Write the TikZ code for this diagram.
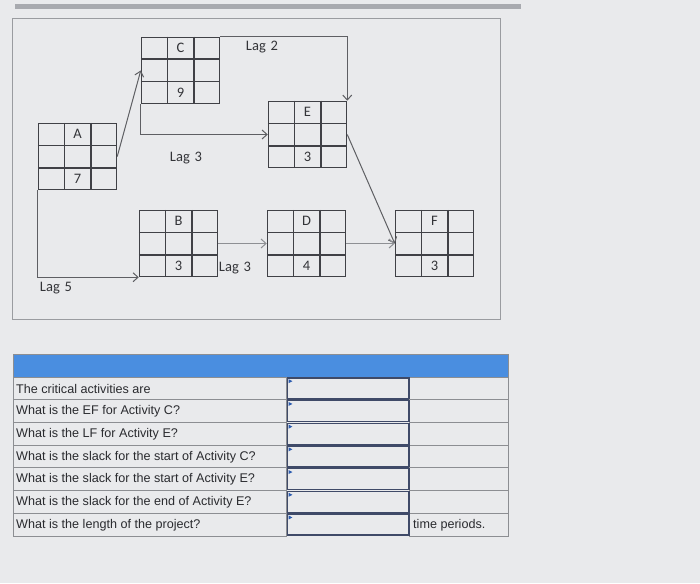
\documentclass[tikz,border=0pt]{standalone}
\usepackage{fontspec}
\setmainfont{Liberation Sans}
\newfontfamily\diagfont{Carlito}
\usetikzlibrary{arrows.meta,calc}
\definecolor{bg}{HTML}{E9EAEC}
\definecolor{barcol}{HTML}{A8AAAF}
\definecolor{framecol}{HTML}{9A9CA0}
\definecolor{gridcol}{HTML}{404146}
\definecolor{arrcol}{HTML}{5E5F63}
\definecolor{arrlight}{HTML}{8E9094}
\definecolor{txtcol}{HTML}{333438}
\definecolor{ttxtcol}{HTML}{2A2B2F}
\definecolor{hblue}{HTML}{4A8EE0}
\definecolor{tgridcol}{HTML}{8C8E92}
\definecolor{inboxcol}{HTML}{3F4A68}
\definecolor{tricol}{HTML}{2C5CB0}
\tikzset{
  act/.style={draw=gridcol, line width=1.5pt, minimum width=78pt, minimum height=66pt, inner sep=0pt},
  gridline/.style={draw=gridcol, line width=1.5pt},
  ctext/.style={font=\diagfont\fontsize{14.5}{15}\selectfont, text=txtcol, inner sep=0pt},
  lagtext/.style={font=\diagfont\fontsize{14.5}{15}\selectfont, text=txtcol, inner sep=0pt},
  arr/.style={draw=arrcol, line width=1pt, -{Straight Barb[length=5pt,width=9pt]}},
  arrl/.style={arr, draw=arrlight},
  tgrid/.style={draw=tgridcol, line width=0.8pt},
  inbox/.style={draw=inboxcol, line width=1.4pt},
  ttext/.style={font=\fontsize{12.6}{14}\selectfont, text=ttxtcol, inner sep=0pt, anchor=west}
}
\newcommand\actgrid[1]{%
  \draw[gridline] ($(#1.north west)!1/3!(#1.north east)$) -- ($(#1.south west)!1/3!(#1.south east)$);
  \draw[gridline] ($(#1.north west)!2/3!(#1.north east)$) -- ($(#1.south west)!2/3!(#1.south east)$);
  \draw[gridline] ($(#1.north west)!1/3!(#1.south west)$) -- ($(#1.north east)!1/3!(#1.south east)$);
  \draw[gridline] ($(#1.north west)!2/3!(#1.south west)$) -- ($(#1.north east)!2/3!(#1.south east)$);
}
\newcommand\actlabels[3]{%
  \node[ctext] (#1-name) at ($(#1.north)+(0,11)$) {#2};
  \node[ctext] (#1-dur) at ($(#1.south)+(0,-11)$) {#3};
}
\begin{document}
\begin{tikzpicture}[x=1pt,y=-1pt]
\useasboundingbox (0,0) rectangle (700,583);
\fill[bg] (0,0) rectangle (700,583);
% top bar and frame
\fill[barcol] (15,4.5) rectangle (521,9);
\draw[framecol, line width=1pt] (12.5,18.5) rectangle (500.5,319.5);

% activity nodes
\node[act] (A) at (77.5,156.5) {};
\node[act] (C) at (180.5,70.5) {};
\node[act] (E) at (307.5,134.5) {};
\node[act] (B) at (178.5,243.5) {};
\node[act] (D) at (306.5,243.5) {};
\node[act] (F) at (434.5,243.5) {};
\foreach \n in {A,C,E,B,D,F}{\actgrid{\n}}
\actlabels{A}{A}{7}
\actlabels{C}{C}{9}
\actlabels{E}{E}{3}
\actlabels{B}{B}{3}
\actlabels{D}{D}{4}
\actlabels{F}{F}{3}

% connectors
\draw[arr] (A.east) -- (C.west);
\draw[arr] (C.south west) |- (E.west);
\draw[arr] (C.north east) -| (E.north east);
\draw[arr] (E.east) -- (F.west);
\draw[arr] (A.south west) |- (B.south west);
\draw[arrl] (B.east) -- (D.west);
\draw[arrl] (D.east) -- (F.west);

% lag labels
\node[lagtext] (lag2) at (262,47) {Lag\,\,2};
\node[lagtext] (lag3a) at (186,158) {Lag\,\,3};
\node[lagtext] (lag3b) at (235,268) {Lag\,\,3};
\node[lagtext] (lag5) at (56,288) {Lag\,\,5};

% table
\fill[hblue] (13,354) rectangle (508,377);
\draw[draw=tgridcol, line width=0.6pt] (13,354) rectangle (508,377);
\foreach \i/\t in {0/The critical activities are,
                   1/What is the EF for Activity C?,
                   2/What is the LF for Activity E?,
                   3/What is the slack for the start of Activity C?,
                   4/What is the slack for the start of Activity E?,
                   5/What is the slack for the end of Activity E?,
                   6/What is the length of the project?}{
  \pgfmathsetmacro\rt{377+\i*22.714}
  \draw[tgrid] (13,\rt) rectangle (286,{\rt+22.714});
  \draw[tgrid] (409,\rt) rectangle (508,{\rt+22.714});
  \node[ttext] (q\i) at (16,{\rt+11.6}) {\t};
  \draw[inbox] (287.5,{\rt+0.9}) rectangle (409,{\rt+21.8});
  \fill[tricol] (288.6,{\rt+2.2}) -- (292.4,{\rt+4.2}) -- (288.6,{\rt+6.2}) -- cycle;
}
\node[ttext] (tp) at (413,{377+6*22.714+11.6}) {time periods.};
\end{tikzpicture}
\end{document}
